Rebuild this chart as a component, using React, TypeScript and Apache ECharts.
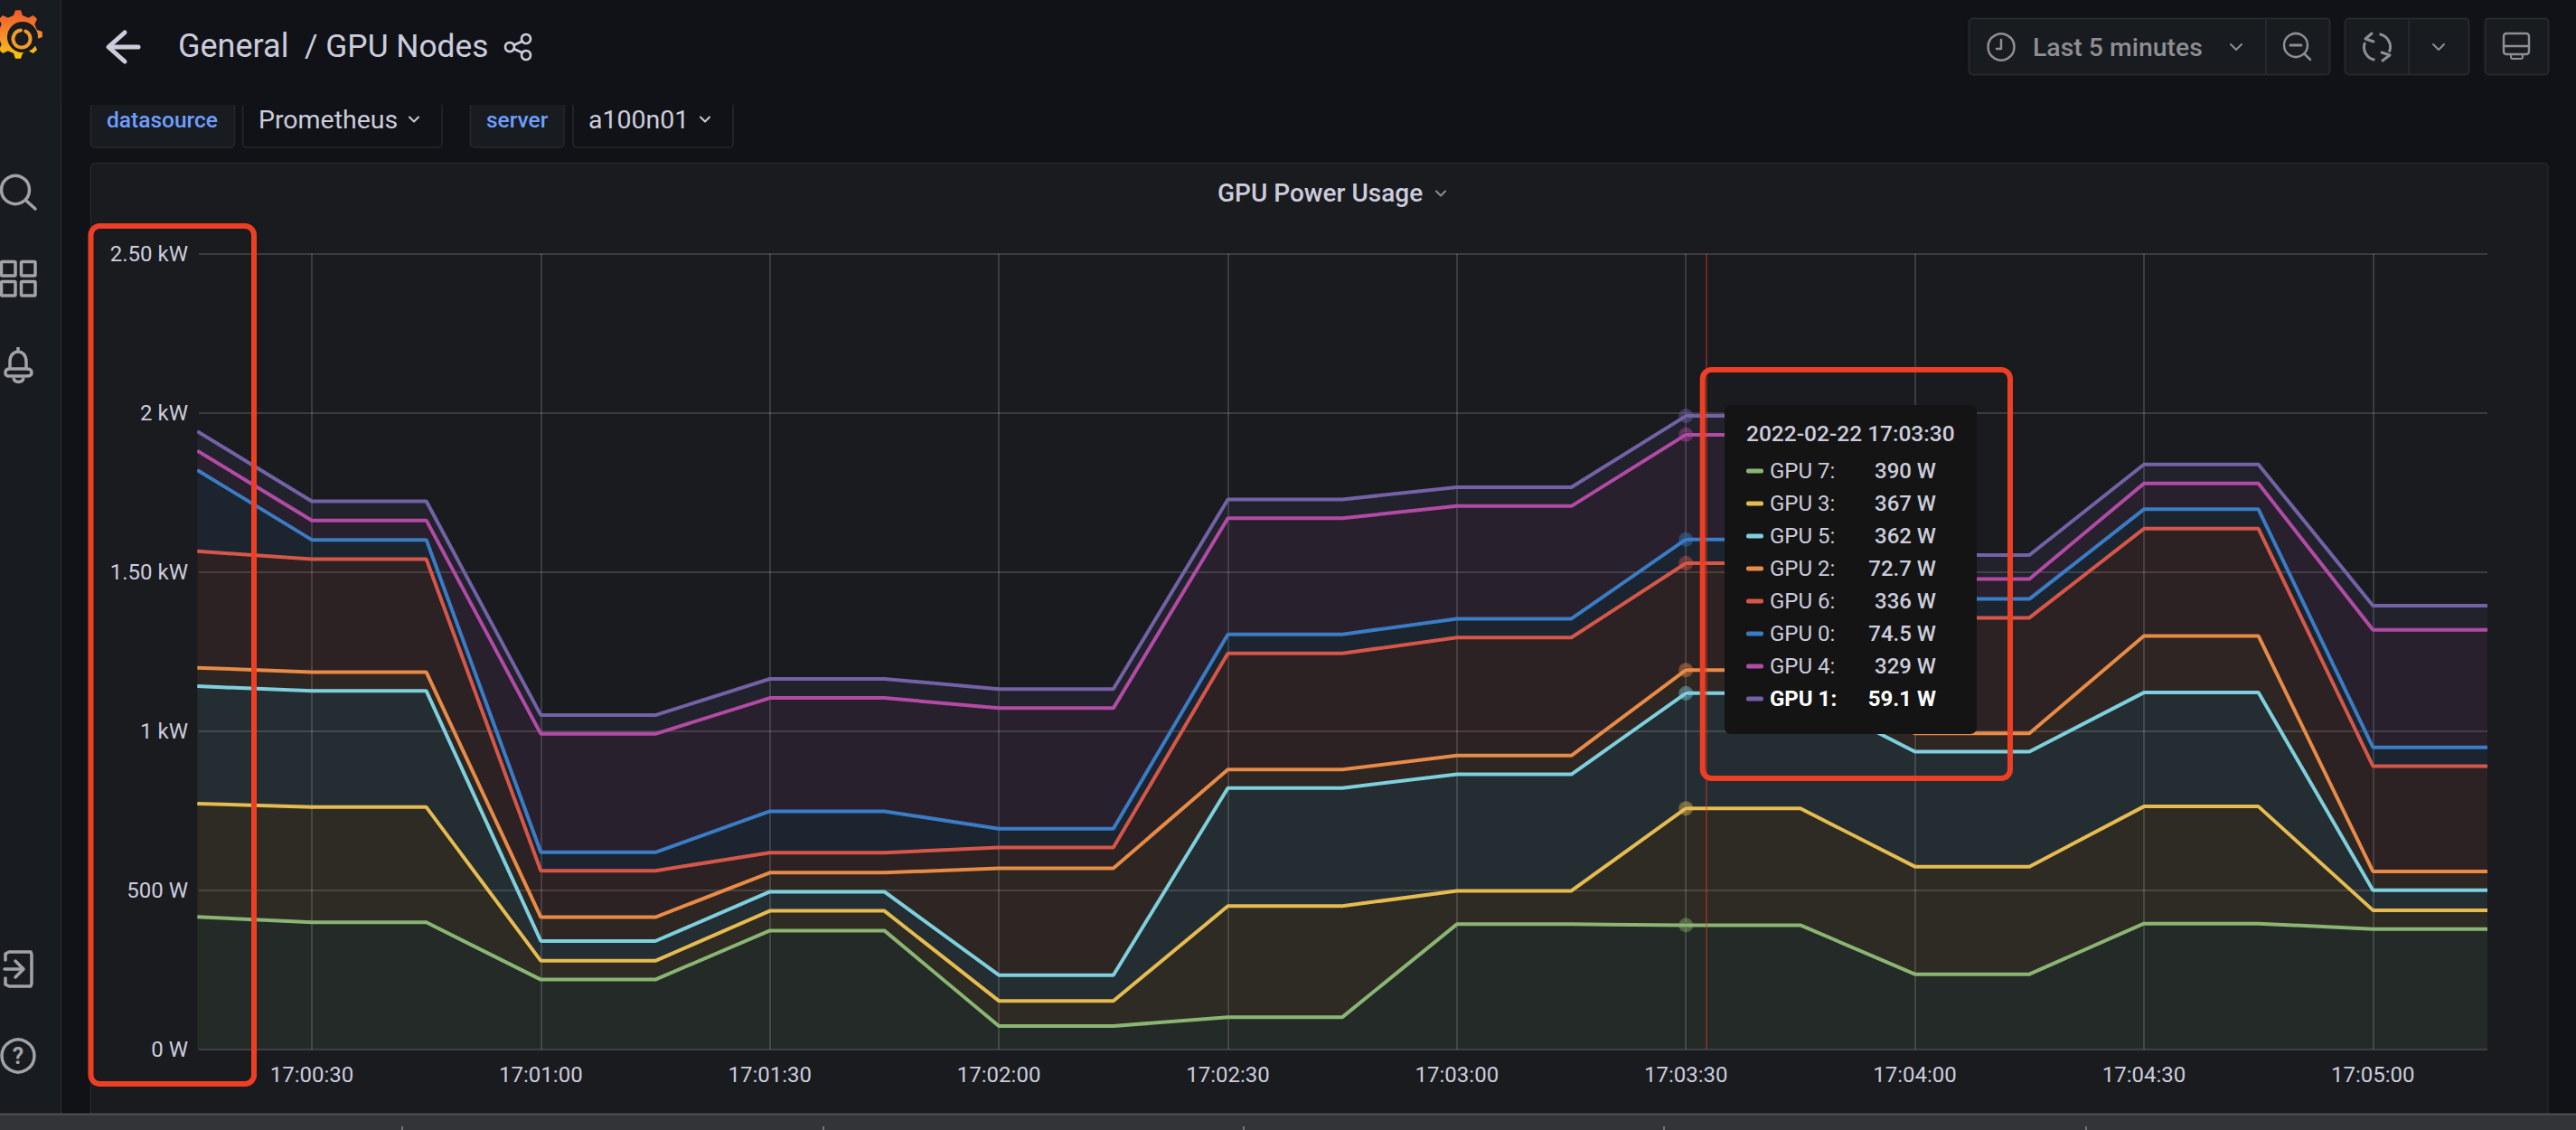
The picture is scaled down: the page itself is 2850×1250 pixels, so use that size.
import React, { useEffect, useRef } from "react";
import * as echarts from "echarts";

// ---- data (W), stacked bottom to top ----
const sampleSeconds = [15, 30, 45, 60, 75, 90, 105, 120, 135, 150, 165, 180, 195, 210, 225, 240, 255, 270, 285, 300, 315];
const gpu7 = [416, 399, 399, 219, 219, 373, 373, 73, 73, 101, 101, 393, 393, 390, 390, 236, 236, 395, 395, 378, 378];
const gpu3 = [356, 362, 362, 59, 59, 62, 62, 79, 79, 349, 349, 105, 105, 367, 367, 338, 338, 368, 368, 59, 59];
const gpu5 = [369, 365, 365, 62, 62, 60, 60, 81, 81, 371, 371, 366, 366, 362, 362, 361, 361, 358, 358, 63, 63];
const gpu2 = [58, 59, 59, 75, 75, 60, 60, 336, 336, 58, 58, 59, 59, 72.7, 72.7, 58, 58, 178, 178, 59, 59];
const gpu6 = [366, 355, 355, 146, 146, 63, 63, 65, 65, 365, 365, 371, 371, 336, 336, 363, 363, 337, 337, 331, 331];
const gpu0 = [255, 61, 61, 58, 58, 130, 130, 59, 59, 60, 60, 59, 59, 74.5, 74.5, 59, 59, 61, 61, 59, 59];
const gpu4 = [61, 61, 61, 372, 372, 356, 356, 379, 379, 365, 365, 354, 354, 329, 329, 63, 63, 81, 81, 369, 369];
const gpu1 = [61, 60, 60, 59, 59, 60, 60, 60, 60, 59, 59, 59, 59, 59.1, 59.1, 75, 75, 60, 60, 76, 76];

const seriesNames = ["GPU 7", "GPU 3", "GPU 5", "GPU 2", "GPU 6", "GPU 0", "GPU 4", "GPU 1"];
const seriesValues = [gpu7, gpu3, gpu5, gpu2, gpu6, gpu0, gpu4, gpu1];
const seriesColors = ["#8AB573", "#E6BC50", "#7ED0DE", "#E88B47", "#D6574A", "#3B7CC6", "#B24BA6", "#7462A6"];
const tooltipValues = ["390 W", "367 W", "362 W", "72.7 W", "336 W", "74.5 W", "329 W", "59.1 W"];

const timeTickSeconds = [30, 60, 90, 120, 150, 180, 210, 240, 270, 300];
const timeTickLabels = ["17:00:30", "17:01:00", "17:01:30", "17:02:00", "17:02:30", "17:03:00", "17:03:30", "17:04:00", "17:04:30", "17:05:00"];
const powerTicks = [0, 500, 1000, 1500, 2000, 2500];
const powerTickLabels = ["0 W", "500 W", "1 kW", "1.50 kW", "2 kW", "2.50 kW"];

const hoverSecond = 210;
const crosshairSecond = 212.7;
const axisMinSecond = 15.2;
const axisMaxSecond = 315;
const t0 = Date.UTC(2022, 1, 22, 17, 0, 0);
const ms = (s: number) => t0 + s * 1000;

const TXT = "#ccccdc";
const DIM = "#8e8e94";
const SIDE = "#a2a2a8";
const RED = "#EE3F24";
const FONT = "Roboto";

function hexA(hex: string, a: number) {
  const n = parseInt(hex.slice(1), 16);
  return `rgba(${n >> 16},${(n >> 8) & 255},${n & 255},${a})`;
}

let registered = false;
function registerShapes() {
  if (registered) return;
  registered = true;
  // logo gear
  const cx = 20, cy = 38, teeth = 8;
  let d = "";
  for (let i = 0; i < teeth; i++) {
    const step = (Math.PI * 2) / teeth;
    const a = i * step - Math.PI / 2;
    const pts = [
      [21.5, a - step * 0.3],
      [27, a - step * 0.14],
      [27, a + step * 0.14],
      [21.5, a + step * 0.3],
    ];
    pts.forEach((p, j) => {
      const x = cx + p[0] * Math.cos(p[1]);
      const y = cy + p[0] * Math.sin(p[1]);
      d += (i === 0 && j === 0 ? "M" : "L") + x.toFixed(1) + " " + y.toFixed(1) + " ";
    });
  }
  d += "Z";
  echarts.graphic.registerShape("logoGear", echarts.graphic.extendPath(d, {}) as any);
  echarts.graphic.registerShape(
    "bell",
    echarts.graphic.extendPath(
      "M20 384 L20 389 M11 408 L11 400 C11 392 16 389 20 389 C24 389 29 392 29 400 L29 408 M6 412 C6 409 8 408 11 408 L29 408 C32 408 35 409 35 412 C35 415 33 416 30 416 L10 416 C7 416 6 415 6 412 Z M15 418 C16 424 25 424 26 418",
      {}
    ) as any
  );
}

function box(x: number, y: number, w: number, h: number, fill: string, stroke?: string, lw = 1.5, r = 4, z = 50) {
  return { type: "rect", z, shape: { x, y, width: w, height: h, r }, style: { fill, stroke, lineWidth: lw } };
}
function label(text: string, x: number, y: number, fill: string, fontSize: number, fontWeight: any = 400, align = "left", z = 60) {
  return { type: "text", z, x, y, style: { text, fill, fontSize, fontWeight, fontFamily: FONT, align, verticalAlign: "middle" } };
}
function stroke(points: number[][], color: string, lw: number, z = 60) {
  return { type: "polyline", z, shape: { points }, style: { stroke: color, lineWidth: lw, fill: "none", lineCap: "round", lineJoin: "round" } };
}
function ringIcon(cx: number, cy: number, r: number, color: string, lw: number, z = 60) {
  return { type: "circle", z, shape: { cx, cy, r }, style: { fill: "none", stroke: color, lineWidth: lw } };
}
function chevron(x: number, y: number, color: string, s = 5) {
  return stroke([[x - s, y - s / 2], [x, y + s / 2], [x + s, y - s / 2]], color, 2);
}

function chrome() {
  const g: any[] = [];
  const Z0 = -20;
  // page
  g.push(box(0, 0, 2850, 1250, "#111217", undefined, 0, 0, Z0));
  g.push(box(0, 0, 67, 1232, "#181b1f", undefined, 0, 0, Z0));
  g.push({ type: "line", z: Z0, shape: { x1: 67.5, y1: 0, x2: 67.5, y2: 1232 }, style: { stroke: "#26282c", lineWidth: 1.5 } });
  // panel
  g.push(box(100.5, 180.5, 2718.5, 1060, "#191b1f", "#24262a", 1.5, 4, Z0));
  // variable row
  g.push(box(100.5, 100, 159, 63, "#181b1f", "#26282b", 1.5, 4, Z0));
  g.push(box(268.5, 100, 220.5, 63, "#111217", "#26282b", 1.5, 4, Z0));
  g.push(box(520.5, 100, 103.5, 63, "#181b1f", "#26282b", 1.5, 4, Z0));
  g.push(box(634, 100, 177, 63, "#111217", "#26282b", 1.5, 4, Z0));
  g.push(box(68.5, 0, 2781.5, 116, "#111217", undefined, 0, 0, Z0));
  g.push(label("datasource", 118, 132, "#6E9FFF", 24.5, 500));
  g.push(label("Prometheus", 286, 132, TXT, 28.5));
  g.push(chevron(458, 132, TXT));
  g.push(label("server", 538, 132, "#6E9FFF", 24.5, 500));
  g.push(label("a100n01", 651, 132, TXT, 28.5));
  g.push(chevron(780, 132, TXT));
  // bottom strip
  g.push(box(0, 1232, 2850, 18, "#333438", undefined, 0, 0, 40));
  g.push({ type: "line", z: 41, shape: { x1: 0, y1: 1232.5, x2: 2850, y2: 1232.5 }, style: { stroke: "#505054", lineWidth: 2 } });
  [445, 911, 1376, 1841, 2308].forEach((x) =>
    g.push({ type: "line", z: 41, shape: { x1: x, y1: 1246, x2: x, y2: 1250 }, style: { stroke: "#8a8a8e", lineWidth: 1.5 } })
  );
  // logo
  const logoFill = new echarts.graphic.LinearGradient(0, 0, 0, 1, [
    { offset: 0, color: "#EF5A2A" },
    { offset: 0.55, color: "#F5912B" },
    { offset: 1, color: "#FBCA0A" },
  ]);
  g.push({ type: "logoGear", z: 60, x: 0, y: 0, style: { fill: logoFill } });
  g.push({ type: "circle", z: 61, shape: { cx: 25, cy: 41, r: 17 }, style: { fill: "#181b1f" } });
  g.push({
    type: "arc",
    z: 62,
    shape: { cx: 24, cy: 43, r: 9.5, startAngle: -1.1, endAngle: 4.6, clockwise: true },
    style: { stroke: "#F39A2B", lineWidth: 4, fill: "none", lineCap: "round" },
  });
  // back and title
  g.push(stroke([[121, 52], [153, 52]], TXT, 5));
  g.push(stroke([[138, 36], [120, 52], [138, 68]], TXT, 5));
  g.push(label("General", 197, 51, TXT, 36));
  g.push(label("/ GPU Nodes", 337, 51, TXT, 35.3));
  [[582, 43], [564, 52], [582, 61]].forEach((p) => g.push(ringIcon(p[0], p[1], 5, TXT, 2.5)));
  g.push(stroke([[578, 45.5], [568.5, 50]], TXT, 2.5));
  g.push(stroke([[578, 58.5], [568.5, 54]], TXT, 2.5));
  // header buttons
  g.push(box(2178.5, 20.5, 399, 62, "#181b1f", "#26282b", 2));
  g.push({ type: "line", z: 55, shape: { x1: 2507, y1: 21, x2: 2507, y2: 82 }, style: { stroke: "#26282b", lineWidth: 2 } });
  g.push(box(2594.5, 20.5, 137, 62, "#181b1f", "#26282b", 2));
  g.push({ type: "line", z: 55, shape: { x1: 2665, y1: 21, x2: 2665, y2: 82 }, style: { stroke: "#26282b", lineWidth: 2 } });
  g.push(box(2749.5, 20.5, 70, 62, "#181b1f", "#26282b", 2));
  g.push(ringIcon(2214, 52, 14.5, DIM, 2.5));
  g.push(stroke([[2214, 44], [2214, 54], [2209, 54]], DIM, 2.5));
  g.push(label("Last 5 minutes", 2249, 52, DIM, 28.4, 500));
  g.push(chevron(2474, 52, DIM, 6));
  g.push(ringIcon(2540, 50, 13, DIM, 2.5));
  g.push(stroke([[2550, 60], [2556, 66]], DIM, 2.5));
  g.push(stroke([[2534, 50], [2546, 50]], DIM, 3));
  g.push({ type: "arc", z: 60, shape: { cx: 2630, cy: 52, r: 14.5, startAngle: -1.4, endAngle: 0.4, clockwise: true }, style: { stroke: DIM, lineWidth: 3, fill: "none" } });
  g.push({ type: "arc", z: 60, shape: { cx: 2630, cy: 52, r: 14.5, startAngle: 1.75, endAngle: 3.5, clockwise: true }, style: { stroke: DIM, lineWidth: 3, fill: "none" } });
  g.push(stroke([[2624, 37], [2617, 43], [2626, 46]], DIM, 3));
  g.push(stroke([[2636, 67], [2644, 61], [2635, 58]], DIM, 3));
  g.push(chevron(2698, 52, DIM, 6));
  g.push({ type: "rect", z: 60, shape: { x: 2770, y: 37, width: 28, height: 23, r: 3 }, style: { fill: "none", stroke: DIM, lineWidth: 2.5 } });
  g.push(stroke([[2770, 51], [2798, 51]], DIM, 2.5));
  g.push({ type: "rect", z: 60, shape: { x: 2778, y: 60, width: 13, height: 5, r: 2 }, style: { fill: "none", stroke: DIM, lineWidth: 2 } });
  // sidebar icons
  g.push(ringIcon(17, 210, 15.5, SIDE, 3.5));
  g.push(stroke([[29, 222], [39, 231]], SIDE, 3.5));
  [[1.5, 289.5], [23.5, 289.5], [1.5, 311.5], [23.5, 311.5]].forEach((p) =>
    g.push({ type: "rect", z: 60, shape: { x: p[0], y: p[1], width: 15.5, height: 15.5, r: 1 }, style: { fill: "none", stroke: SIDE, lineWidth: 3.5 } })
  );
  g.push({ type: "bell", z: 60, x: 0, y: 0, style: { fill: "none", stroke: SIDE, lineWidth: 3.5 } });
  g.push(stroke([[6, 1062], [6, 1055], [10, 1053], [34, 1053], [35, 1056], [35, 1088], [34, 1091], [10, 1091], [6, 1089], [6, 1082]], SIDE, 3.5));
  g.push(stroke([[5, 1072], [25, 1072]], SIDE, 3.5));
  g.push(stroke([[17, 1063], [26, 1072], [17, 1081]], SIDE, 3.5));
  g.push(ringIcon(20, 1168, 18, SIDE, 3.5));
  g.push(label("?", 20, 1168, SIDE, 25, 700, "center"));
  // panel title
  g.push(label("GPU Power Usage", 1347, 213, TXT, 28, 500));
  g.push(chevron(1594, 214, DIM, 5));
  // tooltip
  g.push(box(1908, 448, 279, 364, "#141414", undefined, 0, 7, 70));
  g.push(label("2022-02-22 17:03:30", 1932, 479, TXT, 24.5, 500, "left", 71));
  seriesNames.forEach((name, i) => {
    const y = 521 + i * 36;
    const last = i === seriesNames.length - 1;
    g.push({ type: "rect", z: 71, shape: { x: 1932, y: y - 2.5, width: 19, height: 5, r: 2 }, style: { fill: seriesColors[i] } });
    g.push(label(name + ":", 1958, y, last ? "#ffffff" : TXT, 24, last ? 700 : 400, "left", 71));
    g.push(label(tooltipValues[i], 2142, y, last ? "#ffffff" : TXT, 24, last ? 700 : 500, "right", 71));
  });
  // annotation boxes
  g.push({ type: "rect", z: 90, shape: { x: 100.5, y: 250, width: 180.5, height: 949, r: 10 }, style: { fill: "none", stroke: RED, lineWidth: 6 } });
  g.push({ type: "rect", z: 90, shape: { x: 1883.7, y: 409, width: 340.3, height: 452, r: 10 }, style: { fill: "none", stroke: RED, lineWidth: 6 } });
  return g;
}

export default function App() {
  const ref = useRef<HTMLDivElement>(null);
  useEffect(() => {
    registerShapes();
    const chart = echarts.init(ref.current!, undefined, { renderer: "svg" });
    const tickMs = timeTickSeconds.map(ms);
    chart.setOption({
      animation: false,
      backgroundColor: "#111217",
      textStyle: { fontFamily: FONT },
      useUTC: true,
      grid: { left: 220, right: 98, top: 280.7, height: 880, containLabel: false },
      xAxis: {
        type: "time",
        min: ms(axisMinSecond),
        max: ms(axisMaxSecond),
        splitNumber: 8,
        axisLine: { show: false },
        axisTick: { show: false },
        splitLine: { show: true, showMinLine: false, showMaxLine: false, lineStyle: { color: "rgba(255,255,255,0.2)", width: 1.5 } },
        axisLabel: {
          showMinLabel: false,
          showMaxLabel: false,
          margin: 16,
          color: TXT,
          fontSize: 24,
          fontFamily: FONT,
          hideOverlap: false,
          formatter: (v: number) => timeTickLabels[tickMs.indexOf(v)] ?? "",
        },
      },
      yAxis: {
        type: "value",
        min: 0,
        max: 2500,
        interval: 500,
        axisLine: { show: false },
        axisTick: { show: false },
        splitLine: { show: true, lineStyle: { color: "rgba(255,255,255,0.2)", width: 1.5 } },
        axisLabel: {
          margin: 12,
          color: TXT,
          fontSize: 24,
          fontFamily: FONT,
          padding: [0, 0, 4, 0],
          formatter: (v: number) => powerTickLabels[powerTicks.indexOf(v)] ?? "",
        },
      },
      graphic: { elements: chrome() },
      series: seriesNames.map((name, si) => ({
        name,
        type: "line",
        stack: "power",
        showSymbol: true,
        symbol: "none",
        lineStyle: { color: seriesColors[si], width: 4 },
        itemStyle: { color: seriesColors[si] },
        areaStyle: { color: seriesColors[si], opacity: 0.1 },
        emphasis: { disabled: true },
        silent: true,
        markLine:
          si === 0
            ? {
                silent: true,
                symbol: "none",
                label: { show: false },
                lineStyle: { color: "rgba(214,60,40,0.6)", width: 1.5, type: "solid" },
                data: [{ xAxis: ms(crosshairSecond) }],
              }
            : undefined,
        data: seriesValues[si].map((v, i) =>
          sampleSeconds[i] === hoverSecond
            ? {
                value: [ms(sampleSeconds[i]), v],
                symbol: "circle",
                symbolSize: 11,
                itemStyle: { color: hexA(seriesColors[si], 0.12), borderColor: hexA(seriesColors[si], 0.4), borderWidth: 5 },
              }
            : { value: [ms(sampleSeconds[i]), v] }
        ),
      })),
    });
    return () => chart.dispose();
  }, []);
  return <div ref={ref} style={{ position: "fixed", left: 0, top: 0, width: 2850, height: 1250 }} />;
}
